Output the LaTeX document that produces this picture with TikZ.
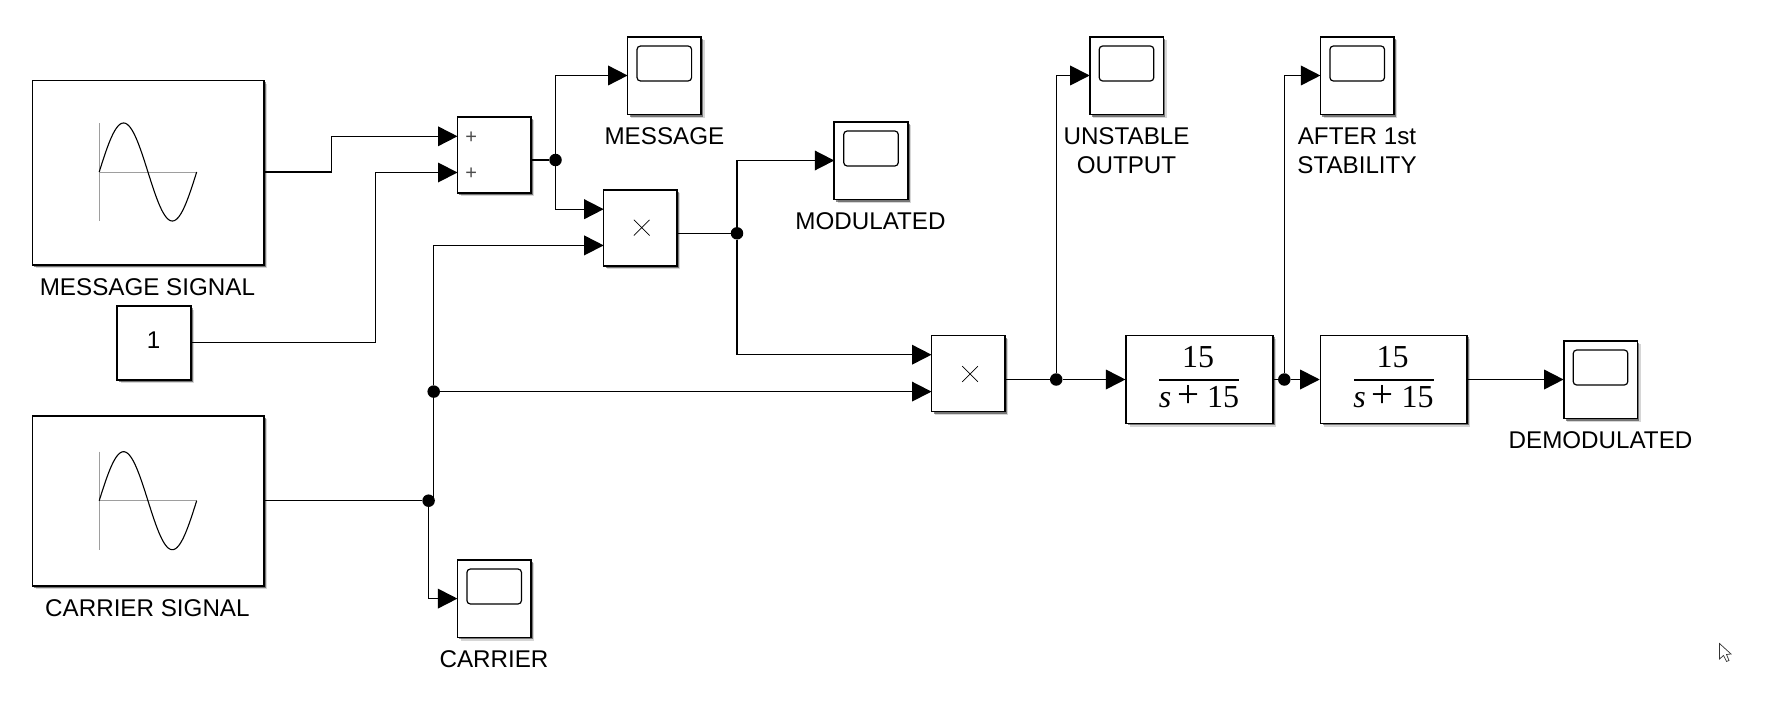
\documentclass[tikz,border=0pt]{standalone}
\usepackage{fontspec}
\setmainfont{Liberation Sans}
\newfontfamily\tffont{Liberation Serif}
\usetikzlibrary{arrows.meta,shadows,shapes.misc}
\tikzset{
  x=1pt,y=-1pt,
  blockbase/.style={draw=black,line width=1.7pt,fill=white,rectangle,inner sep=0pt,
    drop shadow={shadow xshift=3.4pt,shadow yshift=-3.4pt,fill=black,opacity=.16},
    drop shadow={shadow xshift=2pt,shadow yshift=-2pt,fill=black,opacity=.45}},
  srcbox/.style={blockbase,minimum width=231.3pt,minimum height=184.5pt},
  smallbox/.style={blockbase,minimum width=73.5pt,minimum height=76pt},
  scopebox/.style={blockbase,minimum width=73.7pt,minimum height=77.7pt},
  tfbox/.style={blockbase,minimum width=146.5pt,minimum height=88pt},
  screenbox/.style={draw=black,line width=1.2pt,fill=white,rounded corners=3.5pt,rectangle,inner sep=0pt,
    minimum width=54.6pt,minimum height=35pt},
  lbl/.style={font=\fontsize{24.2}{28.5}\selectfont,align=center,inner sep=0pt},
  wire/.style={draw=black,line width=1.15pt},
  arrowwire/.style={wire,-{Triangle[length=19.5pt,width=20pt,line width=0pt]}},
  dot/.style={circle,fill=black,draw=none,minimum size=12.5pt,inner sep=0pt},
  axisline/.style={draw=black!38,line width=.9pt},
  sineline/.style={draw=black,line width=1.1pt},
  timescross/.style={cross out,draw=black,line width=.7pt,minimum size=15pt,inner sep=0pt},
  plussign/.style={font=\fontsize{20}{20}\selectfont,text=black!70,inner sep=0pt},
  tfnum/.style={font=\fontsize{32}{32}\selectfont\tffont,inner sep=0pt},
  tfbar/.style={draw=black,line width=1.9pt},
}
\newcommand{\tfdenom}{{\itshape s}\hspace{6pt}{\fontsize{39}{39}\selectfont +}\hspace{8pt}15}
\begin{document}
\begin{tikzpicture}
\useasboundingbox[fill=white] (0,0) rectangle (1778,701);

% sources
\node[srcbox] (msg) at (148,172.7) {};
\node[srcbox,minimum height=170.3pt] (car) at (148,500.8) {};
\node[lbl] (msgl) at (147.4,287) {MESSAGE SIGNAL};
\node[lbl] (carl) at (147.4,608) {CARRIER SIGNAL};
\draw[axisline] (99.2,123) -- (99.2,221) (99.2,172) -- (196.7,172);
\draw[axisline] (99.2,451.5) -- (99.2,550) (99.2,500.7) -- (196.7,500.7);
\draw[sineline] plot[domain=0:360,samples=90,smooth] ({99.2+\x/360*97.5},{172-49*sin(\x)});
\draw[sineline] plot[domain=0:360,samples=90,smooth] ({99.2+\x/360*97.5},{500.7-49*sin(\x)});

% constant
\node[smallbox,minimum height=73.5pt] (const) at (153.9,342.9) {};
\node[lbl] (constt) at (153.6,340.6) {1};

% sum and products
\node[smallbox] (sum) at (494.2,154.9) {};
\node[plussign] (p1) at (471.3,137.7) {+};
\node[plussign] (p2) at (471.3,174) {+};
\node[smallbox] (prod1) at (640.3,227.7) {};
\node[timescross] (x1) at (641.7,227.7) {};
\node[smallbox] (prod2) at (968.3,373.5) {};
\node[timescross] (x2) at (970,374) {};

% transfer functions
\node[tfbox] (tf1) at (1199.5,379.4) {};
\node[tfbox] (tf2) at (1393.8,379.4) {};
\node[tfnum] (tf1n) at (1198,357) {15};
\node[tfnum] (tf1d) at (1199,397) {\tfdenom};
\node[tfnum] (tf2n) at (1392.5,357) {15};
\node[tfnum] (tf2d) at (1393.5,397) {\tfdenom};
\coordinate (b1l) at (1159,379.7); \coordinate (b1r) at (1239,379.7);
\coordinate (b2l) at (1354,379.7); \coordinate (b2r) at (1434,379.7);
\draw[tfbar] (b1l) -- (b1r);
\draw[tfbar] (b2l) -- (b2r);

% scopes
\node[scopebox] (sm) at (664.4,75.7) {};
\node[screenbox] (smS) at (664.3,63.5) {};
\node[scopebox] (smod) at (871.1,160.7) {};
\node[screenbox] (smodS) at (871,148.5) {};
\node[scopebox] (sun) at (1126.5,75.7) {};
\node[screenbox] (sunS) at (1126.5,63.5) {};
\node[scopebox] (saf) at (1357.2,75.7) {};
\node[screenbox] (safS) at (1357.2,63.5) {};
\node[scopebox] (sde) at (1600.5,379.7) {};
\node[screenbox] (sdeS) at (1600.5,367.5) {};
\node[scopebox] (sca) at (494.2,598.5) {};
\node[screenbox] (scaS) at (494.2,586.5) {};
\node[lbl] (sml) at (664.4,136.5) {MESSAGE};
\node[lbl] (smodl) at (870.5,221.4) {MODULATED};
\node[lbl] (sunl) at (1126.5,150.8) {UNSTABLE\\OUTPUT};
\node[lbl] (safl) at (1357,150.8) {AFTER 1st\\STABILITY};
\node[lbl] (sdel) at (1600.5,440.4) {DEMODULATED};
\node[lbl] (scal) at (494,659.5) {CARRIER};

% junctions
\node[dot] (j1) at (555.5,160) {};
\node[dot] (j2) at (737,233.3) {};
\node[dot] (j3) at (1056.2,379.5) {};
\node[dot] (j4) at (1284.3,379.5) {};
\node[dot] (j5) at (433.7,391.6) {};
\node[dot] (j6) at (428.6,500.7) {};

% ports
\coordinate (sumA) at (457.5,136.3);
\coordinate (sumB) at (457.5,172.5);
\coordinate (pr1A) at (603.7,209.2);
\coordinate (pr1B) at (603.7,245.4);
\coordinate (pr2A) at (931.5,354.7);
\coordinate (pr2B) at (931.5,391.6);
\coordinate (smIn) at (627.6,75.5);
\coordinate (smodIn) at (834.3,160.5);
\coordinate (sunIn) at (1089.7,75.5);
\coordinate (safIn) at (1320.4,75.5);
\coordinate (sdeIn) at (1563.6,379.5);
\coordinate (scaIn) at (457.4,598.6);
\coordinate (msgO) at (263.6,172);
\coordinate (bendA) at (331.6,172);
\coordinate (constO) at (190.6,342.4);
\coordinate (bendB) at (375.3,342.4);
\coordinate (bendC) at (433.7,500.7);

% connectors
\draw[arrowwire] (msgO) -- (bendA) |- (sumA);
\draw[arrowwire] (constO) -- (bendB) |- (sumB);
\draw[wire] (sum.east |- j1) -- (j1);
\draw[arrowwire] (j1) |- (smIn);
\draw[arrowwire] (j1) |- (pr1A);
\draw[wire] (prod1.east |- j2) -- (j2);
\draw[arrowwire] (j2) |- (smodIn);
\draw[arrowwire] (j2) |- (pr2A);
\draw[wire] (car.east |- j6) -- (j6);
\draw[wire] (j6) -- (bendC) -- (j5);
\draw[arrowwire] (j5) |- (pr1B);
\draw[arrowwire] (j5) -- (pr2B);
\draw[arrowwire] (j6) |- (scaIn);
\draw[wire] (prod2.east |- j3) -- (j3);
\draw[arrowwire] (j3) -- (tf1.west |- j3);
\draw[arrowwire] (j3) |- (sunIn);
\draw[wire] (tf1.east |- j4) -- (j4);
\draw[arrowwire] (j4) -- (tf2.west |- j4);
\draw[arrowwire] (j4) |- (safIn);
\draw[arrowwire] (tf2.east |- sdeIn) -- (sdeIn);

% mouse pointer
\draw[draw=black!80,fill=white,line width=.7pt,line join=miter]
  (1719.5,643.5) -- (1719.5,659) -- (1723.5,655.5) -- (1726.5,661.5) -- (1729,660.5) -- (1726.5,654.5) -- (1731,654) -- cycle;
\end{tikzpicture}
\end{document}
